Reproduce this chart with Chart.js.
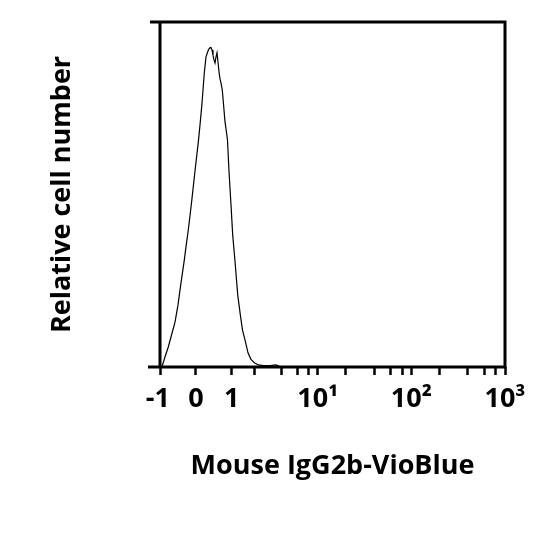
<!DOCTYPE html>
<html><head><meta charset="utf-8">
<script src="https://cdn.jsdelivr.net/npm/chart.js@4/dist/chart.umd.min.js"></script>
<style>html,body{margin:0;padding:0;background:#fff;}</style>
</head><body>
<canvas id="c" width="540" height="540"></canvas>
<script>
// Histogram: fluorescence intensity vs. relative count
const intensity = [-0.935,-0.834,-0.731,-0.650,-0.535,-0.453,-0.400,-0.347,-0.288,-0.245,-0.187,-0.102,-0.021,0.060,0.102,0.144,0.177,0.209,0.252,0.303,0.329,0.355,0.381,0.408,0.434,0.461,0.489,0.516,0.544,0.572,0.601,0.630,0.659,0.697,0.780,0.859,0.909,0.976,1.035,1.120,1.221,1.320,1.416,1.546,1.664,1.801,1.988,2.218,2.54,3.016,3.518,3.896,4.42];
const cellCount = [0,2.9,5.8,8.7,13.0,18.0,22.3,26.4,31.0,34.8,39.7,48.1,56.8,65.2,70.1,75.4,80.3,85.2,89.9,91.6,92.2,92.5,92.6,91.9,90.4,89.0,88.1,89.9,91.1,88.4,85.5,83.5,82.3,80.3,71.1,65.8,56.6,47.0,38.3,30.5,20.9,15.4,10.7,7.3,4.1,2.3,1.2,0.6,0.4,0.4,0.6,0.15,0];
const majorTickValues = [-1,0,1,10,100,1000];
const majorTickLabels = ['-1\u2009','0','1','10\u00B9','10\u00B2','10\u00B3'];
const minorTickValues = [2,4,6,8,20,40,60,80,200,400,600,800];
const xAxisTitle = 'Mouse IgG2b-VioBlue';
const yAxisTitle = 'Relative cell number';

const tr = v => Math.asinh(v);
const allTickValues = majorTickValues.concat(minorTickValues);
const allTickLabels = majorTickLabels.concat(minorTickValues.map(() => ''));
const points = intensity.map((v, i) => ({x: tr(v), y: cellCount[i]}));
const FONT = "'Open Sans', 'DejaVu Sans', sans-serif";

const framePlugin = {
  id: 'frame',
  afterDraw(chart) {
    const {ctx, chartArea: {left, right, top, bottom}} = chart;
    ctx.save();
    ctx.strokeStyle = '#000';
    ctx.lineWidth = 3;
    ctx.lineCap = 'butt';
    ctx.beginPath();
    ctx.moveTo(left - 10, top); ctx.lineTo(right + 1.5, top);
    ctx.moveTo(right, top); ctx.lineTo(right, bottom + 1.5);
    ctx.moveTo(left - 12, bottom); ctx.lineTo(right + 1.5, bottom);
    ctx.moveTo(left, top - 1.5); ctx.lineTo(left, bottom);
    ctx.stroke();
    ctx.restore();
  }
};

new Chart(document.getElementById('c'), {
  type: 'line',
  data: { datasets: [{ data: points, borderColor: '#000', borderWidth: 1.2, pointRadius: 0, tension: 0, fill: false }] },
  options: {
    responsive: false, animation: false,
    layout: { padding: { top: 22, right: 35, left: 0, bottom: 0 } },
    plugins: { legend: { display: false }, tooltip: { enabled: false } },
    scales: {
      x: {
        type: 'linear', min: tr(-1), max: tr(1000),
        afterBuildTicks: s => { s.ticks = allTickValues.map(v => ({ value: tr(v) })); },
        ticks: { autoSkip: false, maxRotation: 0, color: '#000', padding: 8,
          font: { family: FONT, size: 27, weight: 'bold' },
          callback: (val, i) => allTickLabels[i] },
        grid: { display: true, drawOnChartArea: false, drawTicks: true, tickLength: 8, tickWidth: 2.5, tickColor: '#000' },
        border: { display: false },
        title: { display: true, text: xAxisTitle, color: '#000', font: { family: FONT, size: 27, weight: 'bold' }, padding: { top: 0, bottom: 57 } },
        afterFit: s => { s.height = 173; }
      },
      y: {
        min: 0, max: 100,
        ticks: { display: false },
        grid: { display: false },
        border: { display: false },
        title: { display: true, text: yAxisTitle, color: '#000', font: { family: FONT, size: 27, weight: 'bold' }, padding: { top: 46, bottom: 0 } },
        afterFit: s => { s.width = 160; }
      }
    }
  },
  plugins: [framePlugin]
});
</script>
</body></html>
